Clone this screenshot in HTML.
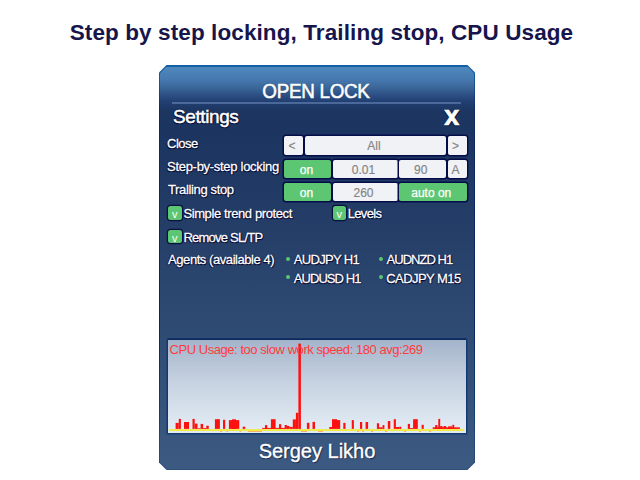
<!DOCTYPE html>
<html><head><meta charset="utf-8">
<style>
html,body{margin:0;padding:0;background:#fff;width:640px;height:480px;overflow:hidden;position:relative;font-family:"Liberation Sans",sans-serif;}
.abs{position:absolute;white-space:nowrap;}
#title{left:1.5px;width:640px;top:18px;text-align:center;font-weight:bold;font-size:22.5px;letter-spacing:0.1px;line-height:30px;color:#16154c;}
#pborder{left:159px;top:65px;width:316px;height:405px;background:linear-gradient(to bottom,#1262a6 0px,#1a5090 20px,#0e2a64 45px,#0a2460 250px,#0f3a74 340px,#254878 385px,#30507c 405px);
 clip-path:polygon(7.5px 0,308.5px 0,316px 7.5px,316px 397.5px,308.5px 405px,7.5px 405px,0 397.5px,0 7.5px);}
#panel{left:160px;top:66.6px;width:314px;height:402.4px;
 background:linear-gradient(to bottom,#5088be 0px,#4a80b5 6.5px,#4679b0 12.5px,#3b6699 20.5px,#2c4e83 28.5px,#213f72 34.5px,#1c3661 43.5px,#1b3560 65.5px,#253f69 170.5px,#2c4870 233.5px,#34527a 330.5px,#3a5880 385.5px,#3b5981 403px);
 clip-path:polygon(6.6px 0,307.4px 0,314px 6.6px,314px 395.4px,307px 402.4px,7px 402.4px,0 395.4px,0 6.6px);}
.lbl{color:#fff;font-size:13px;line-height:16px;text-shadow:0.7px 0.7px 0.7px #000530,-0.5px -0.5px 0.7px #000530,0.7px -0.5px 0.7px #000530,-0.5px 0.7px 0.7px #000530;-webkit-text-stroke:0.3px #fff;}
.btn{position:absolute;border-radius:2px;box-shadow:0 0 0 1.5px #050c48;font-size:12px;text-align:center;box-sizing:border-box;padding-right:3px;}
.lt{background:#f0f2f5;color:#848484;-webkit-text-stroke:0.15px #848484;}
.gr{background:#5cc672;color:#fff;-webkit-text-stroke:0.25px #fff;}
.cb{position:absolute;width:13.5px;height:13.5px;border-radius:2.5px;background:#5cc672;box-shadow:0 0 0 1.2px #0a1040;color:#fff;font-size:11px;line-height:16px;text-align:center;}
.dot{position:absolute;width:4px;height:4px;border-radius:2px;background:#5cc672;}
</style></head><body>
<div id="title" class="abs">Step by step locking, Trailing stop, CPU Usage</div>
<div id="pborder" class="abs"></div>
<div id="panel" class="abs"></div>
<div class="abs" style="left:158px;top:79.5px;width:316px;text-align:center;color:#fff;font-size:20px;letter-spacing:-0.3px;line-height:22px;text-shadow:0 0 1px #0a2050;-webkit-text-stroke:0.6px #fff;transform:scaleX(0.94);transform-origin:157px 0;">OPEN LOCK</div>
<div class="abs" style="left:172px;top:102.3px;width:289px;height:1.3px;background:#4a6898;"></div>
<div class="abs lbl" style="left:173px;top:106px;font-size:19px;letter-spacing:-0.4px;line-height:22px;-webkit-text-stroke:0.5px #fff;">Settings</div>
<div class="abs lbl" style="left:444.3px;top:100.5px;font-size:27px;line-height:30px;font-weight:bold;-webkit-text-stroke:0.7px #fff;">x</div>


<div class="btn lt" style="left:284px;top:135.7px;width:19px;height:19.1px;line-height:21.2px;">&lt;</div>
<div class="btn lt" style="left:305px;top:135.7px;width:141px;height:19.1px;line-height:21.2px;">All</div>
<div class="btn lt" style="left:447.5px;top:135.7px;width:19px;height:19.1px;line-height:21.2px;">&gt;</div>

<div class="btn gr" style="left:284px;top:159.7px;width:47px;height:18.3px;line-height:21px;padding-right:2px;">on</div>
<div class="btn lt" style="left:332.5px;top:159.7px;width:65px;height:18.3px;line-height:21px;">0.01</div>
<div class="btn lt" style="left:399px;top:159.7px;width:46.5px;height:18.3px;line-height:21px;">90</div>
<div class="btn lt" style="left:447.5px;top:159.7px;width:19px;height:18.3px;line-height:21px;">A</div>

<div class="btn gr" style="left:284px;top:182.7px;width:47px;height:18.8px;line-height:21.2px;padding-right:2px;">on</div>
<div class="btn lt" style="left:332.5px;top:182.7px;width:65px;height:18.8px;line-height:21.2px;">260</div>
<div class="btn gr" style="left:399px;top:182.7px;width:67.5px;height:18.8px;line-height:21.2px;">auto on</div>

<div class="abs lbl" style="left:167.1px;top:136.4px;letter-spacing:-0.525px;">Close</div>
<div class="abs lbl" style="left:167.0px;top:159.4px;letter-spacing:-0.289px;">Step-by-step locking</div>
<div class="abs lbl" style="left:168.0px;top:182.4px;letter-spacing:-0.354px;">Tralling stop</div>
<div class="abs lbl" style="left:183.4px;top:206.1px;letter-spacing:-0.389px;">Simple trend protect</div>
<div class="abs lbl" style="left:347.7px;top:206.1px;letter-spacing:-0.64px;">Levels</div>
<div class="abs lbl" style="left:183.4px;top:229.5px;letter-spacing:-0.755px;">Remove SL/TP</div>
<div class="abs lbl" style="left:168.1px;top:252.1px;letter-spacing:-0.439px;">Agents (available 4)</div>
<div class="abs lbl" style="left:293.75px;top:252.1px;letter-spacing:-0.656px;">AUDJPY H1</div>
<div class="abs lbl" style="left:386.5px;top:252.1px;letter-spacing:-0.962px;">AUDNZD H1</div>
<div class="abs lbl" style="left:293.75px;top:271.0px;letter-spacing:-0.931px;">AUDUSD H1</div>
<div class="abs lbl" style="left:386.2px;top:271.0px;letter-spacing:-0.556px;">CADJPY M15</div>
<div class="cb" style="left:168px;top:206px;">v</div>
<div class="cb" style="left:332.5px;top:206px;">v</div>
<div class="cb" style="left:168px;top:229.5px;">v</div>

<div class="dot" style="left:286px;top:256.8px;"></div>
<div class="dot" style="left:379px;top:256.8px;"></div>
<div class="dot" style="left:286px;top:275.3px;"></div>
<div class="dot" style="left:379px;top:275.3px;"></div>

<div class="abs" style="left:168px;top:339.5px;width:298.2px;height:93.2px;background:linear-gradient(to bottom,#a4b4cb,#c6d2e1 45%,#e0e9f2 90%,#e2eaf3);box-shadow:0 -1.5px 0 0.2px #0c2a5e,0 0 0 1.5px #163c74;"></div>
<svg class="abs" style="left:166px;top:338px;" width="302" height="98" viewBox="0 0 302 98">
<rect x="2.8" y="91.25" width="295.5" height="1.6" fill="#f2ec28"/><rect x="82" y="93" width="14" height="1" fill="#f8a050" opacity="0.8"/><rect x="135" y="93" width="6" height="1" fill="#f8a050" opacity="0.8"/><rect x="152" y="93" width="5" height="1" fill="#f8a050" opacity="0.8"/><rect x="54" y="93" width="2" height="1" fill="#f8a050" opacity="0.8"/><rect x="60.5" y="93" width="1.5" height="1" fill="#f8a050" opacity="0.8"/><rect x="73.5" y="93" width="1.5" height="1" fill="#f8a050" opacity="0.8"/><rect x="191" y="93" width="2" height="1" fill="#f8a050" opacity="0.8"/><rect x="196" y="93" width="2" height="1" fill="#f8a050" opacity="0.8"/><rect x="205" y="93" width="2" height="1" fill="#f8a050" opacity="0.8"/><rect x="219" y="93" width="2" height="1" fill="#f8a050" opacity="0.8"/><rect x="238" y="93" width="2" height="1" fill="#f8a050" opacity="0.8"/><rect x="253" y="93" width="2" height="1" fill="#f8a050" opacity="0.8"/><rect x="263" y="93" width="2" height="1" fill="#f8a050" opacity="0.8"/>
<g fill="#ff1010">
<rect x="9.60" y="84.90" width="3.15" height="6.00"/>
<rect x="12.75" y="80.90" width="2.15" height="10.00"/>
<rect x="18.00" y="84.00" width="5.00" height="6.90"/>
<rect x="26.50" y="80.90" width="2.20" height="10.00"/>
<rect x="28.70" y="85.60" width="2.80" height="5.30"/>
<rect x="31.50" y="90.25" width="3.10" height="0.65"/>
<rect x="34.60" y="85.90" width="2.50" height="5.00"/>
<rect x="37.10" y="90.00" width="3.15" height="0.90"/>
<rect x="40.25" y="87.75" width="2.50" height="3.15"/>
<rect x="48.90" y="81.20" width="5.00" height="9.70"/>
<rect x="57.00" y="81.80" width="2.20" height="9.10"/>
<rect x="62.90" y="82.10" width="10.35" height="8.80"/>
<rect x="66.00" y="81.30" width="4.00" height="9.60"/>
<rect x="76.70" y="88.70" width="2.50" height="2.20"/>
<rect x="96.20" y="89.90" width="22.80" height="1.00"/>
<rect x="99.00" y="87.10" width="2.20" height="3.80"/>
<rect x="104.90" y="81.20" width="4.70" height="9.70"/>
<rect x="113.00" y="86.20" width="2.25" height="4.70"/>
<rect x="118.70" y="87.00" width="2.20" height="3.90"/>
<rect x="120.90" y="87.90" width="2.50" height="3.00"/>
<rect x="123.40" y="88.90" width="3.40" height="2.00"/>
<rect x="126.80" y="81.40" width="3.10" height="9.50"/>
<rect x="129.90" y="74.80" width="2.50" height="16.10"/>
<rect x="132.40" y="5.60" width="2.50" height="85.30"/>
<rect x="140.90" y="84.80" width="2.50" height="6.10"/>
<rect x="146.50" y="83.90" width="2.50" height="7.00"/>
<rect x="163.25" y="89.00" width="2.75" height="1.90"/>
<rect x="166.00" y="81.20" width="5.00" height="9.70"/>
<rect x="171.00" y="82.10" width="3.20" height="8.80"/>
<rect x="177.30" y="84.90" width="2.20" height="6.00"/>
<rect x="185.75" y="82.10" width="2.15" height="8.80"/>
<rect x="194.00" y="84.00" width="2.20" height="6.90"/>
<rect x="199.60" y="84.00" width="2.50" height="6.90"/>
<rect x="210.90" y="85.25" width="2.20" height="5.65"/>
<rect x="213.10" y="89.30" width="3.40" height="1.60"/>
<rect x="216.50" y="87.10" width="1.90" height="3.80"/>
<rect x="221.80" y="83.00" width="2.50" height="7.90"/>
<rect x="227.75" y="81.20" width="2.15" height="9.70"/>
<rect x="229.90" y="89.00" width="3.50" height="1.90"/>
<rect x="233.40" y="88.70" width="1.85" height="2.20"/>
<rect x="241.80" y="85.90" width="2.20" height="5.00"/>
<rect x="244.00" y="90.00" width="3.10" height="0.90"/>
<rect x="247.10" y="81.20" width="4.70" height="9.70"/>
<rect x="255.60" y="86.80" width="2.15" height="4.10"/>
<rect x="266.70" y="89.30" width="27.20" height="1.60"/>
<rect x="269.20" y="87.10" width="2.20" height="3.80"/>
<rect x="272.30" y="80.90" width="1.90" height="10.00"/>
<rect x="274.20" y="88.00" width="2.30" height="2.90"/>
<rect x="277.60" y="88.00" width="2.50" height="2.90"/>
<rect x="282.00" y="88.40" width="2.50" height="2.50"/>
<rect x="284.50" y="87.80" width="1.25" height="3.10"/>
<rect x="286.40" y="86.80" width="1.85" height="4.10"/>
</g>
</svg>
<div class="abs" style="left:169.5px;top:342px;color:#ff3c3c;font-size:13px;letter-spacing:-0.45px;line-height:16px;">CPU Usage: too slow work speed: 180 avg:269</div>
<div class="abs" style="left:159px;top:439.7px;width:316px;text-align:center;color:#fff;font-size:20px;line-height:22px;text-shadow:0.7px 0.7px 0.8px #0a1a40,-0.5px -0.5px 0.8px #0a1a40;-webkit-text-stroke:0.4px #fff;">Sergey Likho</div>
</body></html>
